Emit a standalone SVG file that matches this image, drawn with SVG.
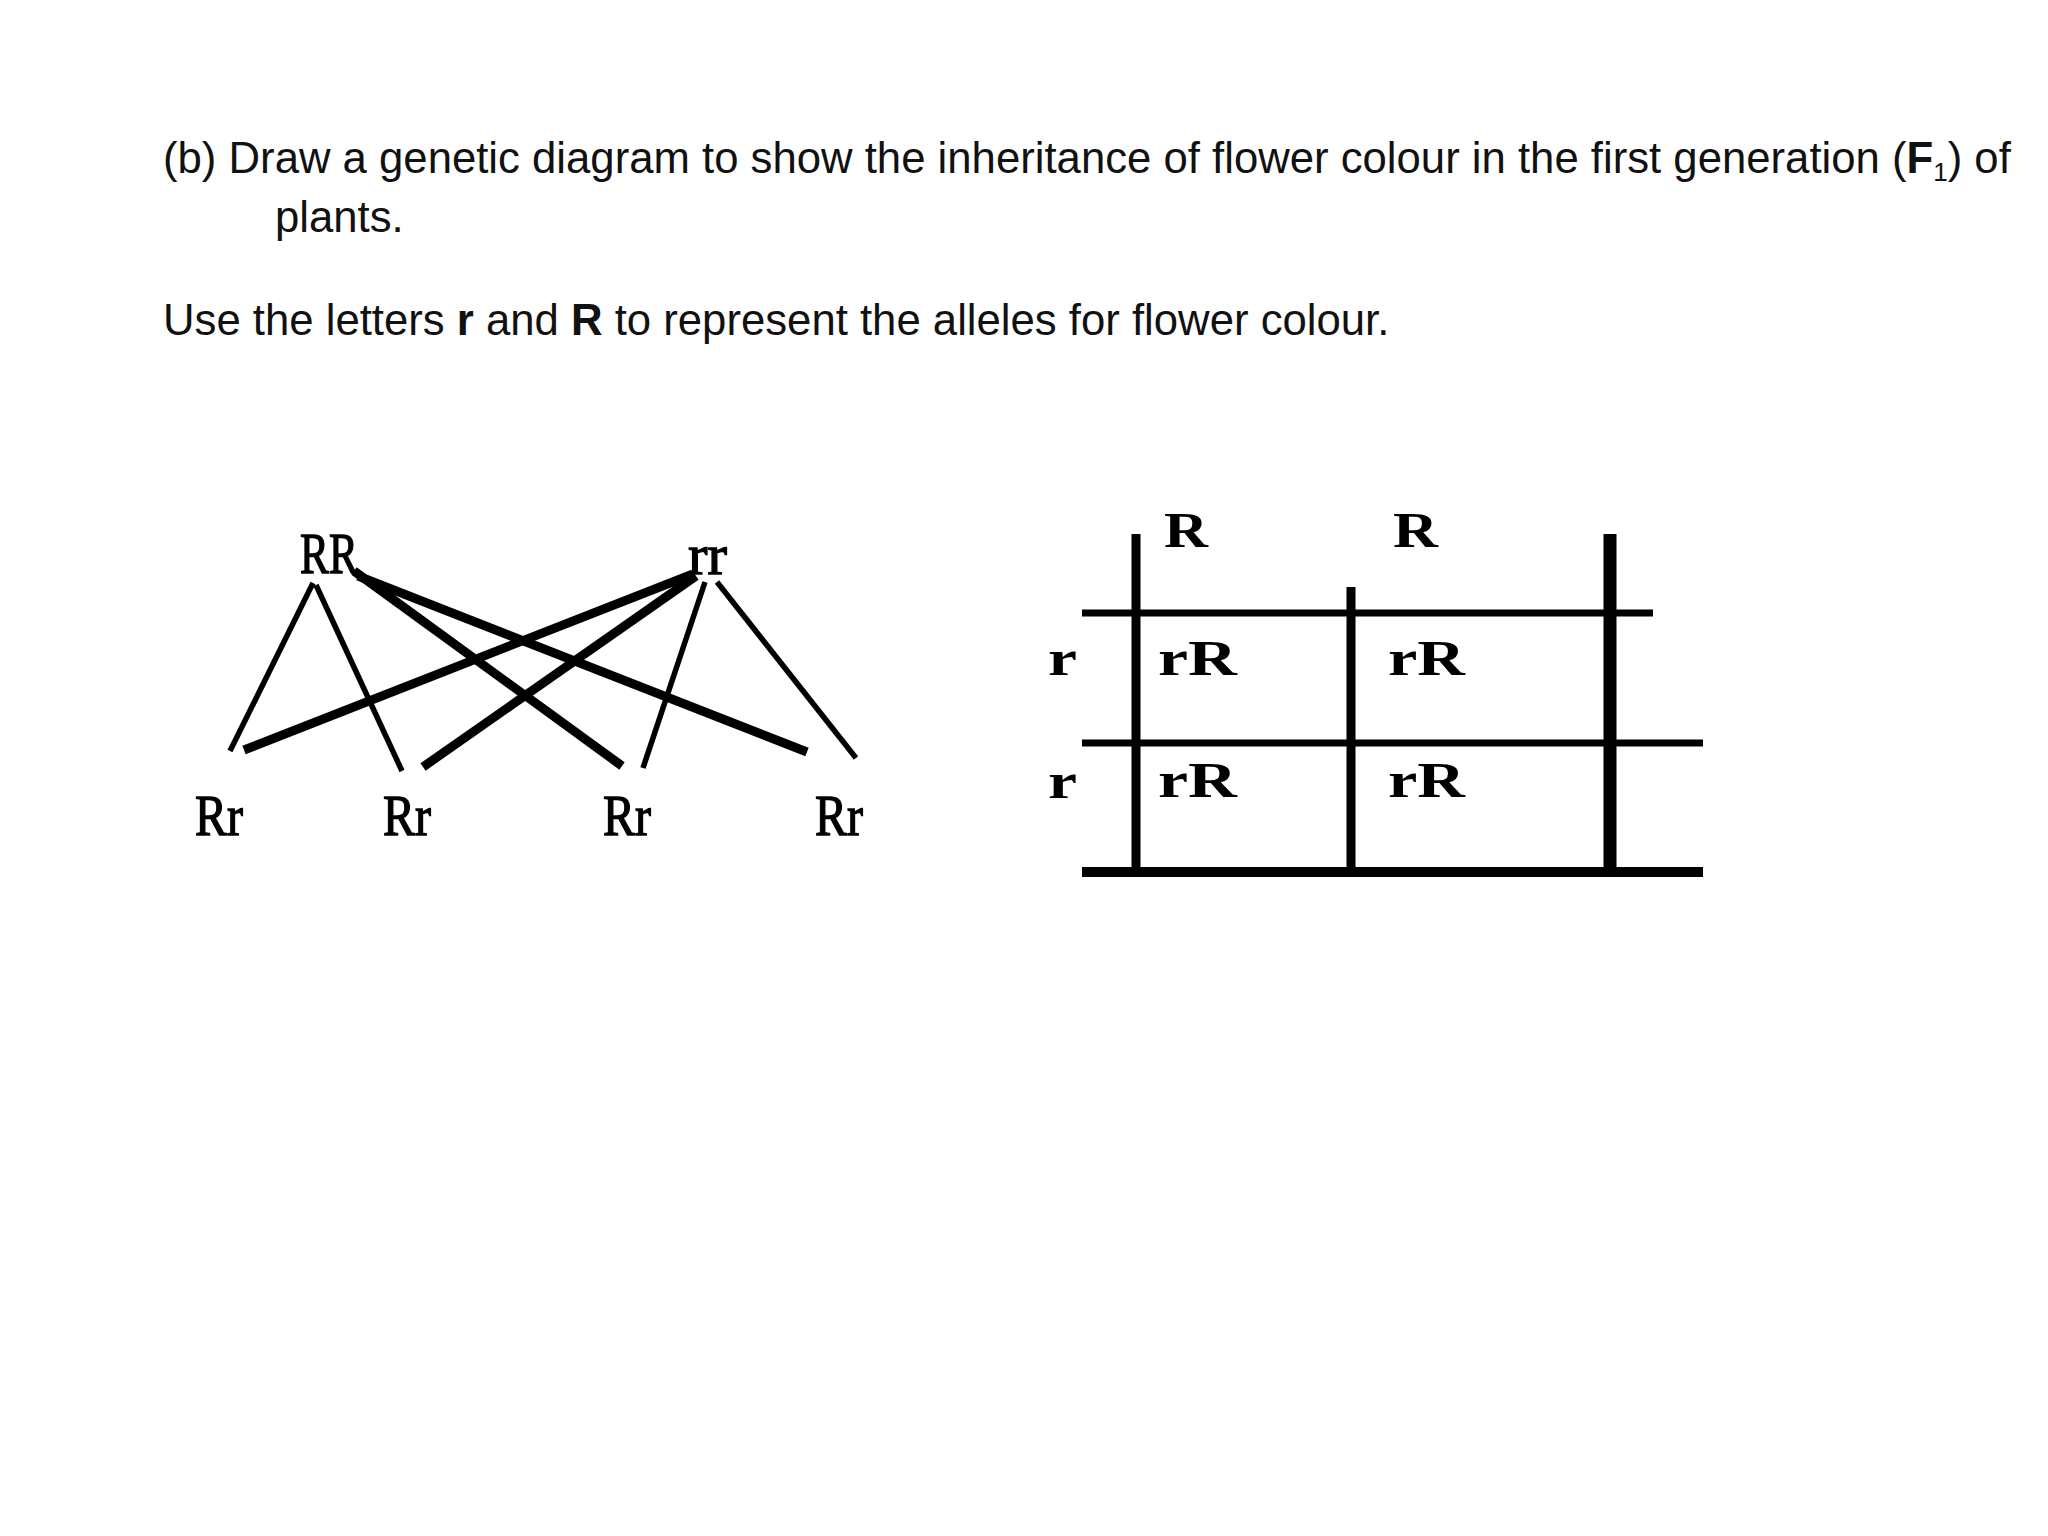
<svg xmlns="http://www.w3.org/2000/svg" width="2048" height="1536" viewBox="0 0 2048 1536">
<style>
.q{font-family:"Liberation Sans",Arial,sans-serif;font-size:43.7px;fill:#111}
.b{font-weight:bold}
.s{font-family:"Liberation Serif","Times New Roman",serif;font-size:57px;fill:#000;stroke:#000;stroke-width:1.3}
.p{font-family:"Liberation Serif","Times New Roman",serif;font-size:50px;font-weight:bold;fill:#000}
.thin{stroke:#000;stroke-width:5.5;fill:none}
.thick{stroke:#000;stroke-width:9;fill:none}
.grid{fill:#000}
</style>
<rect width="2048" height="1536" fill="#fff"/>
<g id="question">
<text class="q" x="163" y="173">(b) Draw a genetic diagram to show the inheritance of flower colour in the first generation (<tspan class="b">F</tspan><tspan font-size="26" dy="8">1</tspan><tspan dy="-8">) of</tspan></text>
<text class="q" x="275" y="232">plants.</text>
<text class="q" x="163" y="335">Use the letters <tspan class="b">r</tspan> and <tspan class="b">R</tspan> to represent the alleles for flower colour.</text>
</g>
<g id="connectors">
<line class="thin" x1="313" y1="583" x2="230" y2="751"/>
<line class="thin" x1="316" y1="585" x2="402" y2="771"/>
<line class="thick" x1="354" y1="571" x2="622" y2="766"/>
<line class="thick" x1="358" y1="576" x2="807" y2="752"/>
<line class="thick" x1="693" y1="574" x2="244" y2="750"/>
<line class="thick" x1="696" y1="576" x2="423" y2="767"/>
<line class="thin" x1="705" y1="582" x2="643" y2="768"/>
<line class="thin" x1="717" y1="582" x2="856" y2="758"/>
</g>
<g id="node-RR"><text class="s" x="300" y="573" textLength="58" lengthAdjust="spacingAndGlyphs">RR</text></g>
<g id="node-rr"><text class="s" x="688" y="574" textLength="39" lengthAdjust="spacingAndGlyphs">rr</text></g>
<g id="node-Rr1"><text class="s" x="195" y="835" textLength="48" lengthAdjust="spacingAndGlyphs">Rr</text></g>
<g id="node-Rr2"><text class="s" x="383" y="835" textLength="48" lengthAdjust="spacingAndGlyphs">Rr</text></g>
<g id="node-Rr3"><text class="s" x="603" y="835" textLength="48" lengthAdjust="spacingAndGlyphs">Rr</text></g>
<g id="node-Rr4"><text class="s" x="815" y="835" textLength="48" lengthAdjust="spacingAndGlyphs">Rr</text></g>
<g id="punnett">
<rect class="grid" x="1131.5" y="534" width="9" height="343"/>
<rect class="grid" x="1346.5" y="587" width="9" height="290"/>
<rect class="grid" x="1603.5" y="534" width="13" height="343"/>
<rect class="grid" x="1082" y="609.5" width="571" height="7"/>
<rect class="grid" x="1082" y="739.5" width="621" height="7"/>
<rect class="grid" x="1082" y="867" width="621" height="10"/>
<text class="p" x="1164" y="547" textLength="44" lengthAdjust="spacingAndGlyphs">R</text>
<text class="p" x="1393" y="547" textLength="45" lengthAdjust="spacingAndGlyphs">R</text>
<text class="p" x="1048" y="675" textLength="29" lengthAdjust="spacingAndGlyphs">r</text>
<text class="p" x="1048" y="798" textLength="29" lengthAdjust="spacingAndGlyphs">r</text>
<text class="p" x="1158" y="675" textLength="79" lengthAdjust="spacingAndGlyphs">rR</text>
<text class="p" x="1388" y="675" textLength="77" lengthAdjust="spacingAndGlyphs">rR</text>
<text class="p" x="1158" y="797" textLength="79" lengthAdjust="spacingAndGlyphs">rR</text>
<text class="p" x="1388" y="797" textLength="77" lengthAdjust="spacingAndGlyphs">rR</text>
</g>
</svg>
